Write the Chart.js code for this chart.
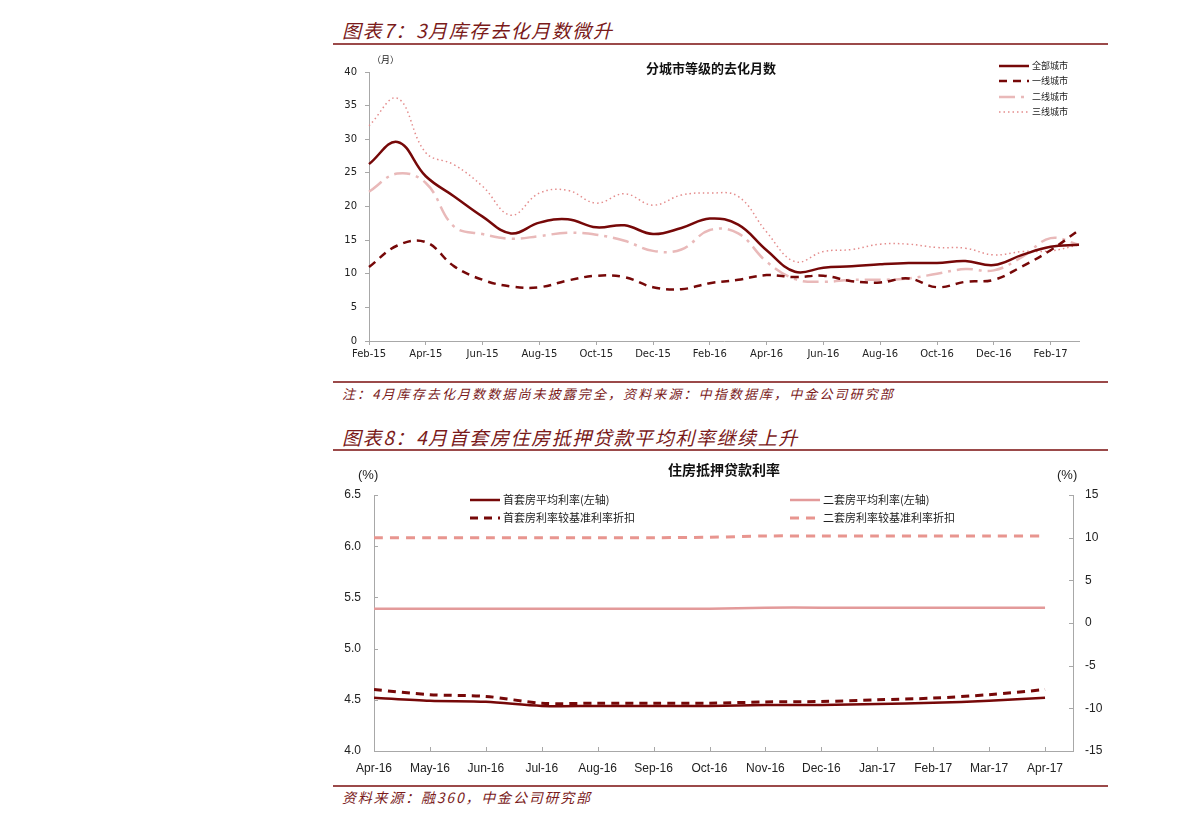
<!DOCTYPE html>
<html>
<head>
<meta charset="utf-8">
<script src="https://cdn.jsdelivr.net/npm/chart.js@4.4.0/dist/chart.umd.min.js"></script>
<style>
    body { margin: 0; background: #fff; width: 1191px; height: 826px; position: relative; overflow: hidden; font-family: "Noto Sans CJK SC", sans-serif; }
    .hd { position: absolute; left: 342px; color: #7a1a1a; font-style: italic; font-size: 19px; letter-spacing: 1.6px; line-height: 22px; white-space: nowrap; }
    .note { position: absolute; left: 342px; color: #7a1a1a; font-style: italic; font-size: 13px; letter-spacing: 2.1px; line-height: 16px; white-space: nowrap; }
    .rule { position: absolute; left: 333px; width: 775px; height: 2px; background: #9b4a4a; }
    .ttl { position: absolute; font-weight: bold; color: #111; white-space: nowrap; transform: translateX(-50%); }
    .unit { position: absolute; color: #222; white-space: nowrap; }
    canvas { position: absolute; }
</style>
</head>
<body>
<div class="hd" style="top:19px">图表7：3月库存去化月数微升</div>
<div class="rule" style="top:43px"></div>
<canvas id="c1" width="770" height="320" style="left:330px;top:50px"></canvas>
<div class="ttl" style="left:711px;top:58px;font-size:13px">分城市等级的去化月数</div>
<div class="unit" style="left:372px;top:53px;font-size:9px">（月）</div>
<div class="rule" style="top:381px"></div>
<div class="note" style="top:386px">注：4月库存去化月数数据尚未披露完全，资料来源：中指数据库，中金公司研究部</div>

<div class="hd" style="top:426px">图表8：4月首套房住房抵押贷款平均利率继续上升</div>
<div class="rule" style="top:449px"></div>
<canvas id="c2" width="780" height="326" style="left:330px;top:455px"></canvas>
<div class="ttl" style="left:724px;top:459px;font-size:14px">住房抵押贷款利率</div>
<div class="unit" style="left:358px;top:467px;font-size:13px;font-family:'Liberation Sans',sans-serif">(%)</div>
<div class="unit" style="left:1057px;top:467px;font-size:13px;font-family:'Liberation Sans',sans-serif">(%)</div>
<div class="rule" style="top:785px"></div>
<div class="note" style="top:789px;font-size:14px;letter-spacing:1.8px">资料来源：融360，中金公司研究部</div>

<script>
// chart 7: months of inventory by city tier
const months1 = ['Feb-15','Mar-15','Apr-15','May-15','Jun-15','Jul-15','Aug-15','Sep-15','Oct-15','Nov-15','Dec-15','Jan-16',
                 'Feb-16','Mar-16','Apr-16','May-16','Jun-16','Jul-16','Aug-16','Sep-16','Oct-16','Nov-16','Dec-16','Jan-17','Feb-17','Mar-17'];
const allCities = [26.3,29.6,24.5,21.5,18.5,16.0,17.6,18.1,16.9,17.2,15.9,16.8,18.2,17.3,13.5,10.3,10.9,11.1,11.4,11.6,11.6,11.9,11.3,12.8,14.0,14.3];
const tier1 = [11.0,14.2,14.7,11.1,9.1,8.1,8.0,9.0,9.7,9.5,8.0,7.7,8.6,9.1,9.8,9.5,9.7,8.9,8.7,9.3,8.0,8.8,9.1,11.1,13.5,16.5];
const tier2 = [22.2,24.9,23.5,17.0,15.9,15.2,15.6,16.1,15.8,14.9,13.4,13.6,16.5,16.0,11.8,9.2,8.8,9.1,9.1,9.3,10.0,10.7,10.5,12.5,15.3,14.3];
const tier3 = [32.0,36.1,28.0,26.2,23.0,18.7,22.0,22.4,20.5,21.9,20.2,21.7,22.0,21.5,16.2,11.8,13.3,13.6,14.4,14.4,13.9,13.8,12.8,13.3,13.4,14.3];
const names1 = ['全部城市','一线城市','二线城市','三线城市'];

// chart 8: mortgage rates
const months2 = ['Apr-16','May-16','Jun-16','Jul-16','Aug-16','Sep-16','Oct-16','Nov-16','Dec-16','Jan-17','Feb-17','Mar-17','Apr-17'];
const firstRate = [4.52,4.49,4.48,4.44,4.44,4.44,4.44,4.45,4.45,4.46,4.47,4.49,4.52];
const secondRate = [5.39,5.39,5.39,5.39,5.39,5.39,5.39,5.40,5.40,5.40,5.40,5.40,5.40];
const firstDiscount = [-7.8,-8.4,-8.6,-9.4,-9.4,-9.4,-9.4,-9.25,-9.2,-9.0,-8.8,-8.4,-7.8];
const secondDiscount = [10.0,10.0,10.0,10.0,10.0,10.0,10.05,10.2,10.2,10.2,10.2,10.2,10.2];
const names2 = ['首套房平均利率(左轴)','二套房平均利率(左轴)','首套房利率较基准利率折扣','二套房利率较基准利率折扣'];

const dark = '#760808';
const axisGray = '#a8a8a8';

// small legend drawn with each dataset's own line style
const lineLegend = {
    id: 'lineLegend',
    afterDraw(chart, args, opts) {
        const ctx = chart.ctx;
        ctx.save();
        chart.data.datasets.forEach((ds, i) => {
            const p = opts.items[i];
            ctx.strokeStyle = ds.borderColor;
            ctx.lineWidth = ds.borderWidth;
            ctx.setLineDash(ds.borderDash || []);
            ctx.beginPath();
            ctx.moveTo(p[0], p[1]);
            ctx.lineTo(p[0] + opts.len, p[1]);
            ctx.stroke();
            ctx.setLineDash([]);
            ctx.fillStyle = '#222';
            ctx.font = opts.font;
            ctx.textBaseline = 'middle';
            ctx.fillText(ds.label, p[0] + opts.len + 3, p[1]);
        });
        ctx.restore();
    }
};

// tick marks pointing into the plot area
const innerTicks = {
    id: 'innerTicks',
    afterDraw(chart) {
        const ctx = chart.ctx;
        const a = chart.chartArea;
        ctx.save();
        ctx.strokeStyle = axisGray;
        ctx.lineWidth = 1;
        ctx.beginPath();
        chart.scales.x.ticks.forEach(t => {
            const px = Math.round(chart.scales.x.getPixelForValue(t.value)) + 0.5;
            ctx.moveTo(px, a.bottom); ctx.lineTo(px, a.bottom - 4);
        });
        chart.scales.y.ticks.forEach(t => {
            const py = Math.round(chart.scales.y.getPixelForValue(t.value)) + 0.5;
            ctx.moveTo(a.left, py); ctx.lineTo(a.left + 4, py);
        });
        chart.scales.y1.ticks.forEach(t => {
            const py = Math.round(chart.scales.y1.getPixelForValue(t.value)) + 0.5;
            ctx.moveTo(a.right, py); ctx.lineTo(a.right - 4, py);
        });
        ctx.stroke();
        ctx.restore();
    }
};

const font1 = { family: 'DejaVu Sans', size: 10 };
new Chart(document.getElementById('c1'), {
    type: 'line',
    data: {
        labels: months1,
        datasets: [
            { label: names1[0], data: allCities, borderColor: dark, borderWidth: 2.5 },
            { label: names1[1], data: tier1, borderColor: dark, borderWidth: 2.5, borderDash: [8, 6] },
            { label: names1[2], data: tier2, borderColor: '#e9b9b9', borderWidth: 2.5, borderDash: [16, 6, 3, 6] },
            { label: names1[3], data: tier3, borderColor: '#e48c8c', borderWidth: 1.5, borderDash: [1.5, 3] }
        ]
    },
    options: {
        responsive: false,
        animation: false,
        layout: { padding: { top: 22, right: 21, left: 0, bottom: 0 } },
        elements: { point: { radius: 0 }, line: { tension: 0.4 } },
        plugins: {
            legend: { display: false },
            tooltip: { enabled: false },
            lineLegend: { len: 30, font: '9px "Noto Sans CJK SC"', items: [[669, 16], [669, 31], [669, 47], [669, 62]] }
        },
        scales: {
            x: {
                border: { color: axisGray },
                grid: { drawOnChartArea: false, tickLength: 4, color: c => c.index % 2 === 0 ? axisGray : 'rgba(0,0,0,0)' },
                ticks: { autoSkip: false, maxRotation: 0, padding: 3, color: '#222', font: font1,
                         callback: (v, i) => i % 2 === 0 ? months1[i] : '' },
                afterFit: s => { s.height = 29; }
            },
            y: {
                min: 0, max: 40,
                border: { color: axisGray },
                grid: { drawOnChartArea: false, tickLength: 4, color: axisGray },
                ticks: { stepSize: 5, padding: 8, color: '#222', font: font1 },
                afterFit: s => { s.width = 39; }
            }
        }
    },
    plugins: [lineLegend]
});

const font2 = { family: "'Liberation Sans Narrow', 'Liberation Sans', sans-serif", size: 12 };
const pts = arr => arr.map((v, i) => ({ x: i, y: v }));
new Chart(document.getElementById('c2'), {
    type: 'line',
    data: {
        datasets: [
            { label: names2[0], data: pts(firstRate), borderColor: dark, borderWidth: 2.5, yAxisID: 'y' },
            { label: names2[1], data: pts(secondRate), borderColor: '#e39a9a', borderWidth: 2.5, yAxisID: 'y' },
            { label: names2[2], data: pts(firstDiscount), borderColor: dark, borderWidth: 3, borderDash: [8, 6], yAxisID: 'y1' },
            { label: names2[3], data: pts(secondDiscount), borderColor: '#e8958f', borderWidth: 3, borderDash: [9, 7], yAxisID: 'y1' }
        ]
    },
    options: {
        responsive: false,
        animation: false,
        layout: { padding: { top: 40, right: 0, left: 0, bottom: 0 } },
        elements: { point: { radius: 0 }, line: { tension: 0.3 } },
        plugins: {
            legend: { display: false },
            tooltip: { enabled: false },
            lineLegend: { len: 30, font: '11px "Noto Sans CJK SC"', items: [[140, 45], [460, 45], [140, 63], [460, 63]] }
        },
        scales: {
            x: {
                type: 'linear', min: 0, max: 12.5,
                border: { color: axisGray },
                grid: { display: false },
                afterBuildTicks: s => { s.ticks = months2.map((m, i) => ({ value: i })); },
                ticks: { autoSkip: false, maxRotation: 0, padding: 2, color: '#222', font: font2,
                         callback: v => months2[v] },
                afterFit: s => { s.height = 30; }
            },
            y: {
                position: 'left', min: 4, max: 6.5,
                border: { color: axisGray },
                grid: { display: false },
                ticks: { stepSize: 0.5, padding: 5, color: '#222', font: font2, callback: v => v.toFixed(1) },
                afterFit: s => { s.width = 44; }
            },
            y1: {
                position: 'right', min: -15, max: 15,
                border: { color: axisGray },
                grid: { display: false },
                ticks: { stepSize: 5, padding: 4, color: '#222', font: font2 },
                afterFit: s => { s.width = 37; }
            }
        }
    },
    plugins: [lineLegend, innerTicks]
});
</script>
</body>
</html>
